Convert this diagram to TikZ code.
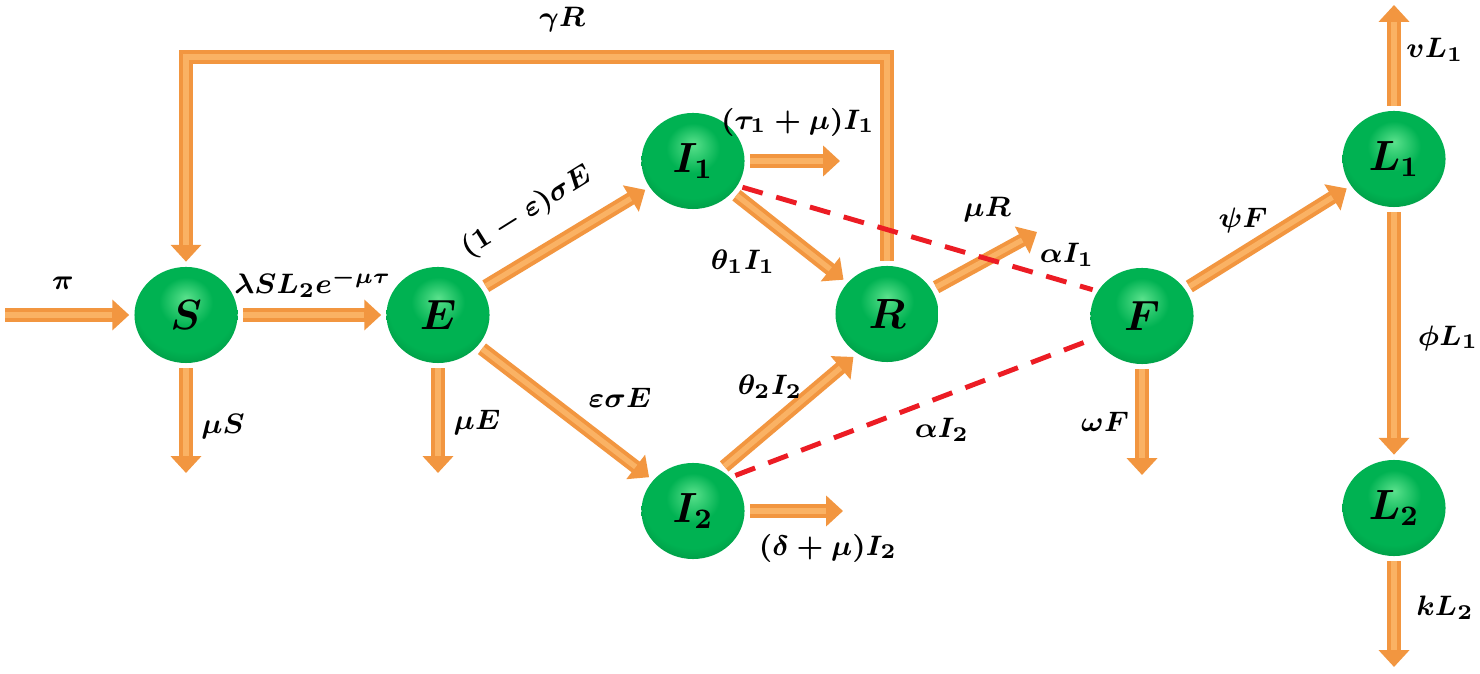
\documentclass[tikz,border=0pt]{standalone}
\usepackage{amsmath,bm}
\usetikzlibrary{arrows.meta,shapes.geometric}
\definecolor{FlowClr}{RGB}{242,150,64}
\definecolor{FlowLight}{RGB}{250,178,100}
\definecolor{DashClr}{RGB}{236,28,36}
\definecolor{BallLight}{RGB}{90,225,140}
\definecolor{BallMid}{RGB}{0,178,82}
\definecolor{BallDark}{RGB}{0,142,62}
\pgfdeclareradialshading{GreenBall}{\pgfpoint{0bp}{9bp}}{color(0bp)=(BallLight); color(13bp)=(BallMid); color(24bp)=(BallMid); color(34bp)=(BallDark); color(50bp)=(BallDark)}

\begin{document}
\begin{tikzpicture}[x=0.01cm,y=-0.01cm,
  comp/.style={ellipse,minimum width=1.03cm,minimum height=0.96cm,inner sep=0pt,shade,shading=GreenBall,outer sep=1.5pt,font=\boldmath\fontsize{12}{14}\selectfont},
  lbl/.style={font=\boldmath\fontsize{8.5}{10}\selectfont},
  flow/.style={draw=FlowClr,line width=3.8pt,-{Triangle[width=8.5pt,length=4.8pt]},postaction={draw=FlowLight,line width=1.5pt,-,shorten >=4.8pt}},
  contact/.style={draw=DashClr,line width=1.4pt,dash pattern=on 6pt off 4pt}]
\useasboundingbox (0,0) rectangle (1480,674);

\node[comp] (S) at (186,315) {$S$};
\node[comp] (E) at (438,315) {$E$};
\node[comp] (I1) at (693,161) {$I_1$};
\node[comp] (I2) at (693,511) {$I_2$};
\node[comp] (R) at (887,314) {$R$};
\node[comp] (F) at (1142,316) {$F$};
\node[comp] (L1) at (1394,159) {$L_1$};
\node[comp] (L2) at (1394,508) {$L_2$};

\coordinate (Sin) at (5,315);
\coordinate (Sout) at (186,473);
\coordinate (Eout) at (438,473);
\coordinate (I1out) at (840,161);
\coordinate (I2out) at (843,511);
\coordinate (Rout) at (1037,232);
\coordinate (Fout) at (1142,475);
\coordinate (L1out) at (1394,5);
\coordinate (L2out) at (1394,667);
\coordinate (RtopR) at (887,57);
\coordinate (RtopS) at (186,57);

\draw[flow] (Sin) -- (S);
\draw[flow] (S) -- (E);
\draw[flow] (S) -- (Sout);
\draw[flow] (E) -- (Eout);
\draw[flow] (E) -- (I1);
\draw[flow] (E) -- (I2);
\draw[flow] (I1) -- (I1out);
\draw[flow] (I2) -- (I2out);
\draw[flow] (I1) -- (R);
\draw[flow] (I2.55) -- (R.232);
\draw[flow] (R) -- (Rout);
\draw[flow] (R) -- (RtopR) -- (RtopS) -- (S);
\draw[flow] (F) -- (Fout);
\draw[flow] (F) -- (L1);
\draw[flow] (L1) -- (L1out);
\draw[flow] (L1) -- (L2);
\draw[flow] (L2) -- (L2out);

\draw[contact] (I1.-28) -- (F.152);
\draw[contact] (I2.40) -- (F.205);

\node[lbl] (lpi) at (63,283) {$\pi$};
\node[lbl,font=\boldmath\fontsize{8}{10}\selectfont] (linf) at (313,283) {$\lambda S L_2 e^{-\mu\tau}$};
\node[lbl] (lmuS) at (223,427) {$\mu S$};
\node[lbl] (lmuE) at (477,423) {$\mu E$};
\node[lbl,rotate=32,inner sep=1pt] (lsig1) at (527,212) {$(1-\varepsilon)\sigma E$};
\node[lbl] (lsig2) at (620,398) {$\varepsilon\sigma E$};
\node[lbl,font=\boldmath\fontsize{8}{10}\selectfont] (ltau) at (798,122) {$(\tau_1+\mu)I_1$};
\node[lbl] (ldel) at (828,548) {$(\delta+\mu)I_2$};
\node[lbl] (lth1) at (743,262) {$\theta_1 I_1$};
\node[lbl] (lth2) at (770,387) {$\theta_2 I_2$};
\node[lbl] (lgam) at (562,20) {$\gamma R$};
\node[lbl] (lmuR) at (987,210) {$\mu R$};
\node[lbl] (lal1) at (1067,255) {$\alpha I_1$};
\node[lbl] (lal2) at (942,430) {$\alpha I_2$};
\node[lbl] (lom) at (1105,422) {$\omega F$};
\node[lbl] (lpsi) at (1243,220) {$\psi F$};
\node[lbl] (lnu) at (1435,50) {$v L_1$};
\node[lbl] (lphi) at (1448,338) {$\phi L_1$};
\node[lbl] (lk) at (1445,608) {$k L_2$};

\end{tikzpicture}
\end{document}
